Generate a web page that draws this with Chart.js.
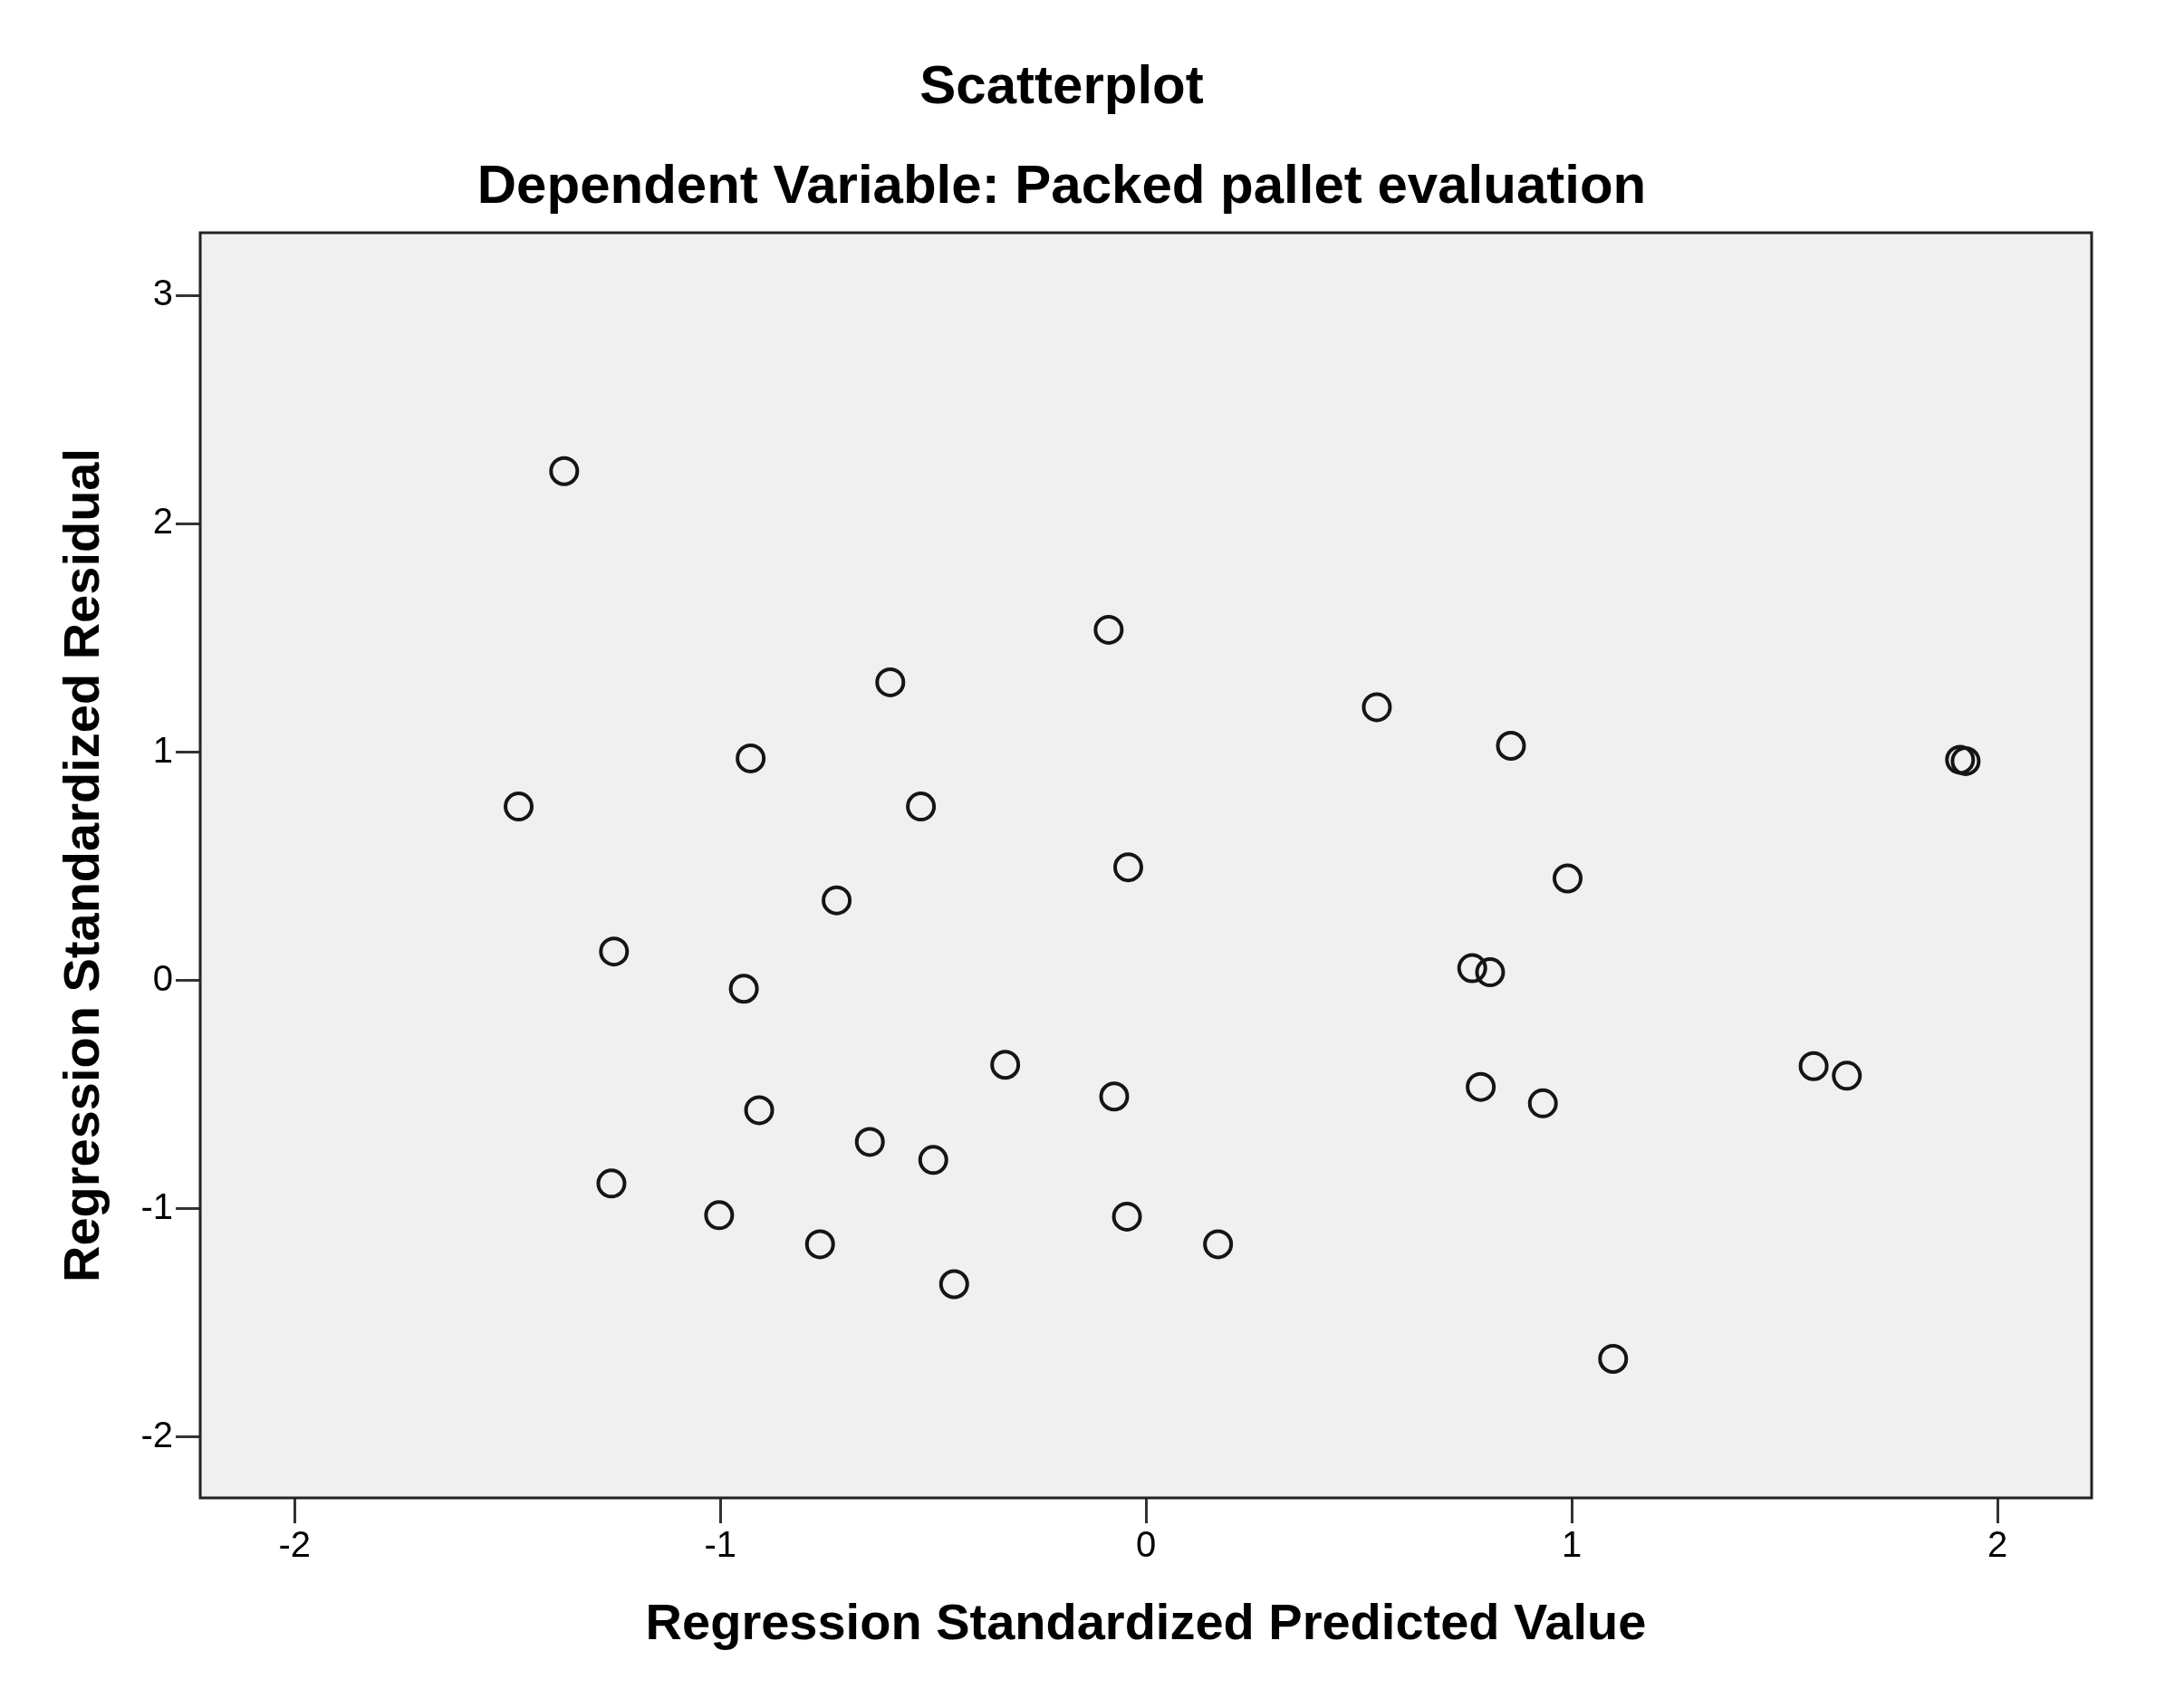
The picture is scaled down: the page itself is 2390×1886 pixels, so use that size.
<!DOCTYPE html>
<html>
<head>
<meta charset="utf-8">
<script src="https://cdn.jsdelivr.net/npm/chart.js@4.4.1/dist/chart.umd.min.js"></script>
<style>
  html, body { margin: 0; padding: 0; background: #fff; }
  #wrap { width: 2390px; height: 1886px; }
</style>
</head>
<body>
<div id="wrap"><canvas id="myChart" width="2390" height="1886"></canvas></div>
<script>
// Regression Standardized Predicted Value (x) / Standardized Residual (y)
var predicted = [-1.367, -0.088, -0.601, 0.542, 0.857, -0.929, 1.912, 1.925, -1.474, -0.529,
                 -0.042, 0.990, -0.727, -1.250, 0.766, 0.808, -0.945, -0.331, 1.568, 1.646,
                 0.786, -0.075, 0.932, -0.909, -0.649, -0.500, -1.256, -1.003, -0.045, -0.766,
                 0.169, -0.451, 1.097];
var residual = [2.231, 1.536, 1.306, 1.197, 1.028, 0.973, 0.967, 0.961, 0.762, 0.762,
                0.496, 0.447, 0.351, 0.127, 0.054, 0.036, -0.036, -0.369, -0.375, -0.417,
                -0.466, -0.508, -0.538, -0.568, -0.707, -0.786, -0.889, -1.028, -1.034, -1.155,
                -1.155, -1.330, -1.657];
var titleLines = ["Scatterplot", "Dependent Variable: Packed pallet evaluation"];
var xTitle = "Regression Standardized Predicted Value";
var yTitle = "Regression Standardized Residual";
var xRange = [-2.222, 2.221];
var yRange = [-2.266, 3.275];

var points = predicted.map(function (x, i) { return { x: x, y: residual[i] }; });

var FONT = "'Liberation Sans', Arial, sans-serif";

var plotFrame = {
  id: 'plotFrame',
  beforeDraw: function (chart) {
    var ctx = chart.ctx, a = chart.chartArea;
    ctx.save();
    ctx.fillStyle = '#ffffff';
    ctx.fillRect(0, 0, chart.width, chart.height);
    ctx.fillStyle = '#f0f0f0';
    ctx.fillRect(a.left, a.top, a.right - a.left, a.bottom - a.top);
    ctx.restore();
  },
  afterDraw: function (chart) {
    var ctx = chart.ctx, a = chart.chartArea;
    ctx.save();
    ctx.strokeStyle = '#222222';
    ctx.lineWidth = 3;
    ctx.strokeRect(a.left, a.top, a.right - a.left, a.bottom - a.top);
    ctx.restore();
  }
};

function keepWhole(scale) {
  scale.ticks = scale.ticks.filter(function (t) { return Math.abs(t.value - Math.round(t.value)) < 1e-9; });
}

new Chart("myChart", {
  type: 'scatter',
  data: {
    datasets: [{
      data: points,
      backgroundColor: 'rgba(0,0,0,0)',
      borderColor: '#151515',
      borderWidth: 4,
      pointRadius: 14.5,
      pointHoverRadius: 14.5
    }]
  },
  options: {
    responsive: false,
    animation: false,
    events: [],
    layout: { padding: { left: 35, right: 81, top: 0, bottom: 0 } },
    plugins: {
      legend: { display: false },
      tooltip: { enabled: false },
      title: {
        display: true,
        text: titleLines,
        color: '#000',
        font: { family: FONT, size: 60, weight: 'bold', lineHeight: 1.8333 },
        padding: { top: 42, bottom: -5 }
      }
    },
    scales: {
      x: {
        type: 'linear',
        min: xRange[0],
        max: xRange[1],
        afterBuildTicks: keepWhole,
        afterFit: function (scale) { scale.height = 232; },
        grid: {
          display: true, drawOnChartArea: false, drawTicks: true,
          tickLength: 28, tickWidth: 3, tickColor: '#333333'
        },
        border: { display: false },
        ticks: {
          stepSize: 1, includeBounds: false, padding: 2,
          color: '#000', font: { family: FONT, size: 40 }, maxRotation: 0
        },
        title: {
          display: true, text: xTitle, color: '#000',
          font: { family: FONT, size: 56, weight: 'bold' },
          padding: { top: 0, bottom: 58 }
        }
      },
      y: {
        type: 'linear',
        min: yRange[0],
        max: yRange[1],
        afterBuildTicks: keepWhole,
        afterFit: function (scale) { scale.width = 186; },
        grid: {
          display: true, drawOnChartArea: false, drawTicks: true,
          tickLength: 27, tickWidth: 3, tickColor: '#333333'
        },
        border: { display: false },
        ticks: {
          stepSize: 1, includeBounds: false, padding: 3,
          color: '#000', font: { family: FONT, size: 40 }
        },
        title: {
          display: true, text: yTitle, color: '#000',
          font: { family: FONT, size: 56, weight: 'bold' },
          padding: { top: 25, bottom: 0 }
        }
      }
    }
  },
  plugins: [plotFrame]
});
</script>
</body>
</html>
